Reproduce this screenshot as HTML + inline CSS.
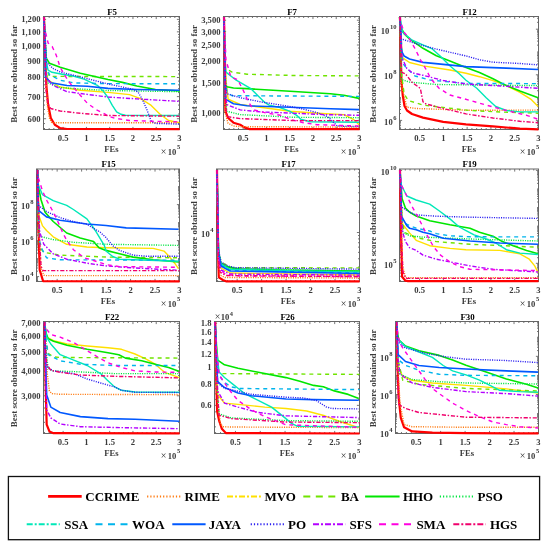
<!DOCTYPE html><html><head><meta charset="utf-8"><style>
html,body{margin:0;padding:0;background:#fff;width:550px;height:549px;overflow:hidden}
svg{display:block;filter:blur(0.35px)} text{font-family:'Liberation Serif', serif;font-weight:bold}
.tl{font-size:8.6px;fill:#3a3a3a} .sup{font-size:6.6px} .sup2{font-size:6.4px} .tx{font-weight:normal;font-size:10px} .tt{font-size:8.9px;fill:#000}
.yl{font-size:8.95px;fill:#3a3a3a} .lg{font-size:13px;fill:#000}
</style></head><body>
<svg width="550" height="549" viewBox="0 0 550 549">
<rect width="550" height="549" fill="#fff"/>
<rect x="43.5" y="16.5" width="136.00" height="113.00" fill="none" stroke="#666666" stroke-width="1"/>
<path d="M44.52 129.50v-1.5M44.52 16.50v1.5M49.18 129.50v-1.5M49.18 16.50v1.5M53.83 129.50v-1.5M53.83 16.50v1.5M58.49 129.50v-1.5M58.49 16.50v1.5M63.14 129.50v-2.6M63.14 16.50v2.6M67.80 129.50v-1.5M67.80 16.50v1.5M72.45 129.50v-1.5M72.45 16.50v1.5M77.10 129.50v-1.5M77.10 16.50v1.5M81.76 129.50v-1.5M81.76 16.50v1.5M86.41 129.50v-2.6M86.41 16.50v2.6M91.07 129.50v-1.5M91.07 16.50v1.5M95.72 129.50v-1.5M95.72 16.50v1.5M100.38 129.50v-1.5M100.38 16.50v1.5M105.03 129.50v-1.5M105.03 16.50v1.5M109.68 129.50v-2.6M109.68 16.50v2.6M114.34 129.50v-1.5M114.34 16.50v1.5M118.99 129.50v-1.5M118.99 16.50v1.5M123.65 129.50v-1.5M123.65 16.50v1.5M128.30 129.50v-1.5M128.30 16.50v1.5M132.96 129.50v-2.6M132.96 16.50v2.6M137.61 129.50v-1.5M137.61 16.50v1.5M142.27 129.50v-1.5M142.27 16.50v1.5M146.92 129.50v-1.5M146.92 16.50v1.5M151.57 129.50v-1.5M151.57 16.50v1.5M156.23 129.50v-2.6M156.23 16.50v2.6M160.88 129.50v-1.5M160.88 16.50v1.5M165.54 129.50v-1.5M165.54 16.50v1.5M170.19 129.50v-1.5M170.19 16.50v1.5M174.85 129.50v-1.5M174.85 16.50v1.5M43.50 128.60h1.5M179.50 128.60h-1.5M43.50 123.57h1.5M179.50 123.57h-1.5M43.50 114.01h1.5M179.50 114.01h-1.5M43.50 109.46h1.5M179.50 109.46h-1.5M43.50 105.05h1.5M179.50 105.05h-1.5M43.50 100.77h1.5M179.50 100.77h-1.5M43.50 92.58h1.5M179.50 92.58h-1.5M43.50 88.65h1.5M179.50 88.65h-1.5M43.50 84.83h1.5M179.50 84.83h-1.5M43.50 81.11h1.5M179.50 81.11h-1.5M43.50 73.94h1.5M179.50 73.94h-1.5M43.50 70.49h1.5M179.50 70.49h-1.5M43.50 67.12h1.5M179.50 67.12h-1.5M43.50 63.82h1.5M179.50 63.82h-1.5M43.50 57.45h1.5M179.50 57.45h-1.5M43.50 54.37h1.5M179.50 54.37h-1.5M43.50 51.35h1.5M179.50 51.35h-1.5M43.50 48.40h1.5M179.50 48.40h-1.5M43.50 42.66h1.5M179.50 42.66h-1.5M43.50 39.88h1.5M179.50 39.88h-1.5M43.50 37.15h1.5M179.50 37.15h-1.5M43.50 34.47h1.5M179.50 34.47h-1.5M43.50 29.26h1.5M179.50 29.26h-1.5M43.50 26.72h1.5M179.50 26.72h-1.5M43.50 24.23h1.5M179.50 24.23h-1.5M43.50 21.78h1.5M179.50 21.78h-1.5M43.50 17.00h1.5M179.50 17.00h-1.5M43.50 118.71h2.6M179.50 118.71h-2.6M43.50 96.62h2.6M179.50 96.62h-2.6M43.50 77.48h2.6M179.50 77.48h-2.6M43.50 60.60h2.6M179.50 60.60h-2.6M43.50 45.50h2.6M179.50 45.50h-2.6M43.50 31.84h2.6M179.50 31.84h-2.6M43.50 19.37h2.6M179.50 19.37h-2.6" stroke="#666666" stroke-width="0.9" fill="none"/>
<polyline points="44.00,17.00 45.40,60.00 46.50,87.00 48.10,104.50 50.80,118.00 54.80,124.70 60.20,128.10 67.00,129.00 179.60,129.10" fill="none" stroke="#ff0000" stroke-width="2.2" stroke-linejoin="round"/>
<polyline points="44.00,17.00 46.00,80.00 47.40,105.80 49.40,118.00 51.50,122.40 53.00,122.70 179.60,122.70" fill="none" stroke="#ff7a10" stroke-width="1.4" stroke-dasharray="1.1 1.25" stroke-linejoin="round"/>
<polyline points="44.00,17.00 45.50,70.00 48.00,80.00 60.00,87.00 80.40,90.30 108.00,92.40 129.60,94.60 141.10,98.90 151.20,105.40 159.80,114.00 168.50,120.50 179.50,122.70" fill="none" stroke="#ffe000" stroke-width="1.4" stroke-linejoin="round"/>
<polyline points="44.00,17.00 46.00,65.00 49.40,76.40 179.60,76.60" fill="none" stroke="#70e400" stroke-width="1.4" stroke-dasharray="4 3.9" stroke-linejoin="round"/>
<polyline points="44.00,17.00 46.10,57.80 49.40,63.20 60.20,67.30 80.40,73.30 108.00,79.50 122.40,82.40 136.80,86.00 155.50,89.50 179.50,91.00" fill="none" stroke="#00e600" stroke-width="1.6" stroke-linejoin="round"/>
<polyline points="44.00,17.00 46.00,70.00 48.10,83.00 60.20,87.60 80.40,89.00 108.00,90.50 179.60,91.70" fill="none" stroke="#00e640" stroke-width="1.4" stroke-dasharray="1.1 1.25" stroke-linejoin="round"/>
<polyline points="44.00,17.00 46.00,60.00 48.00,70.00 52.00,72.30 62.20,74.20 73.10,76.00 84.00,79.20 97.30,85.30 103.60,91.60 108.00,97.50 112.30,105.40 116.60,111.90 121.00,114.30 125.30,115.20 179.60,115.50" fill="none" stroke="#00e8b8" stroke-width="1.4" stroke-linejoin="round"/>
<polyline points="44.00,17.00 46.00,65.00 49.40,74.80 60.20,80.20 73.70,82.90 108.00,83.60 179.60,83.80" fill="none" stroke="#00b4ec" stroke-width="1.4" stroke-dasharray="4 3.9" stroke-linejoin="round"/>
<polyline points="44.00,17.00 45.40,76.70 50.80,82.80 67.00,85.50 87.20,86.30 108.00,88.40 136.80,89.50 179.50,90.30" fill="none" stroke="#0058ff" stroke-width="1.6" stroke-linejoin="round"/>
<polyline points="44.00,17.00 46.70,62.50 53.50,68.80 60.20,72.00 80.40,76.90 108.00,84.00 122.40,87.00 133.90,89.50 138.20,92.40 142.50,99.60 146.90,109.70 151.20,121.20 155.50,123.40 179.50,124.10" fill="none" stroke="#2a1ef0" stroke-width="1.4" stroke-dasharray="1.1 1.25" stroke-linejoin="round"/>
<polyline points="44.00,17.00 45.50,65.00 46.70,78.90 53.50,85.60 67.00,91.70 87.20,94.40 108.00,97.00 136.80,98.90 179.50,101.40" fill="none" stroke="#b400ff" stroke-width="1.4" stroke-dasharray="4.2 1.6 1.5 1.8" stroke-linejoin="round"/>
<polyline points="44.00,17.00 45.00,30.00 48.10,43.00 52.10,46.40 56.20,55.10 60.20,67.30 65.60,76.70 70.30,83.50 77.80,92.40 87.20,103.10 96.60,109.90 104.70,113.90 108.00,116.20 115.20,118.30 129.60,120.50 151.20,121.20 179.50,121.90" fill="none" stroke="#ff00e0" stroke-width="1.4" stroke-dasharray="4 3.9" stroke-linejoin="round"/>
<polyline points="44.00,17.00 46.00,90.00 48.00,104.00 50.80,108.50 60.20,111.00 80.40,113.30 108.00,115.50 179.50,116.20" fill="none" stroke="#f0006c" stroke-width="1.4" stroke-dasharray="4.2 1.6 1.5 1.8" stroke-linejoin="round"/>
<text x="63.14" y="141.10" class="tl" text-anchor="middle">0.5</text>
<text x="86.41" y="141.10" class="tl" text-anchor="middle">1</text>
<text x="109.68" y="141.10" class="tl" text-anchor="middle">1.5</text>
<text x="132.96" y="141.10" class="tl" text-anchor="middle">2</text>
<text x="156.23" y="141.10" class="tl" text-anchor="middle">2.5</text>
<text x="179.50" y="141.10" class="tl" text-anchor="middle">3</text>
<text x="111.50" y="151.50" class="tl" text-anchor="middle">FEs</text>
<text x="180.10" y="155.20" class="tl" text-anchor="end"><tspan class="tx">×</tspan><tspan dx="1.4">10</tspan><tspan class="sup2" dx="0.6" dy="-6.2">5</tspan></text>
<text x="40.50" y="121.71" class="tl" text-anchor="end">600</text>
<text x="40.50" y="99.62" class="tl" text-anchor="end">700</text>
<text x="40.50" y="80.48" class="tl" text-anchor="end">800</text>
<text x="40.50" y="63.60" class="tl" text-anchor="end">900</text>
<text x="40.50" y="48.50" class="tl" text-anchor="end">1,000</text>
<text x="40.50" y="34.84" class="tl" text-anchor="end">1,100</text>
<text x="40.50" y="22.37" class="tl" text-anchor="end">1,200</text>
<text x="112.10" y="14.90" class="tt" text-anchor="middle">F5</text>
<text x="17.10" y="73.90" class="yl" text-anchor="middle" transform="rotate(-90 17.10 73.90)">Best score obtained so far</text>
<rect x="223.5" y="16.5" width="136.00" height="113.00" fill="none" stroke="#666666" stroke-width="1"/>
<path d="M224.52 129.50v-1.5M224.52 16.50v1.5M229.18 129.50v-1.5M229.18 16.50v1.5M233.83 129.50v-1.5M233.83 16.50v1.5M238.49 129.50v-1.5M238.49 16.50v1.5M243.14 129.50v-2.6M243.14 16.50v2.6M247.80 129.50v-1.5M247.80 16.50v1.5M252.45 129.50v-1.5M252.45 16.50v1.5M257.10 129.50v-1.5M257.10 16.50v1.5M261.76 129.50v-1.5M261.76 16.50v1.5M266.41 129.50v-2.6M266.41 16.50v2.6M271.07 129.50v-1.5M271.07 16.50v1.5M275.72 129.50v-1.5M275.72 16.50v1.5M280.38 129.50v-1.5M280.38 16.50v1.5M285.03 129.50v-1.5M285.03 16.50v1.5M289.68 129.50v-2.6M289.68 16.50v2.6M294.34 129.50v-1.5M294.34 16.50v1.5M298.99 129.50v-1.5M298.99 16.50v1.5M303.65 129.50v-1.5M303.65 16.50v1.5M308.30 129.50v-1.5M308.30 16.50v1.5M312.96 129.50v-2.6M312.96 16.50v2.6M317.61 129.50v-1.5M317.61 16.50v1.5M322.27 129.50v-1.5M322.27 16.50v1.5M326.92 129.50v-1.5M326.92 16.50v1.5M331.57 129.50v-1.5M331.57 16.50v1.5M336.23 129.50v-2.6M336.23 16.50v2.6M340.88 129.50v-1.5M340.88 16.50v1.5M345.54 129.50v-1.5M345.54 16.50v1.5M350.19 129.50v-1.5M350.19 16.50v1.5M354.85 129.50v-1.5M354.85 16.50v1.5M223.50 128.94h1.5M359.50 128.94h-1.5M223.50 120.26h1.5M359.50 120.26h-1.5M223.50 105.48h1.5M359.50 105.48h-1.5M223.50 99.07h1.5M359.50 99.07h-1.5M223.50 93.18h1.5M359.50 93.18h-1.5M223.50 87.72h1.5M359.50 87.72h-1.5M223.50 77.88h1.5M359.50 77.88h-1.5M223.50 73.42h1.5M359.50 73.42h-1.5M223.50 69.21h1.5M359.50 69.21h-1.5M223.50 65.22h1.5M359.50 65.22h-1.5M223.50 57.85h1.5M359.50 57.85h-1.5M223.50 54.43h1.5M359.50 54.43h-1.5M223.50 51.15h1.5M359.50 51.15h-1.5M223.50 48.02h1.5M359.50 48.02h-1.5M223.50 42.12h1.5M359.50 42.12h-1.5M223.50 39.34h1.5M359.50 39.34h-1.5M223.50 36.66h1.5M359.50 36.66h-1.5M223.50 34.08h1.5M359.50 34.08h-1.5M223.50 29.17h1.5M359.50 29.17h-1.5M223.50 26.83h1.5M359.50 26.83h-1.5M223.50 24.56h1.5M359.50 24.56h-1.5M223.50 22.36h1.5M359.50 22.36h-1.5M223.50 18.15h1.5M359.50 18.15h-1.5M223.50 112.50h2.6M359.50 112.50h-2.6M223.50 82.63h2.6M359.50 82.63h-2.6M223.50 61.45h2.6M359.50 61.45h-2.6M223.50 45.01h2.6M359.50 45.01h-2.6M223.50 31.58h2.6M359.50 31.58h-2.6M223.50 20.23h2.6M359.50 20.23h-2.6" stroke="#666666" stroke-width="0.9" fill="none"/>
<polyline points="224.00,17.00 225.00,80.00 225.40,111.20 228.10,118.00 233.50,122.70 240.20,124.70 244.30,127.40 249.60,129.10 359.60,129.10" fill="none" stroke="#ff0000" stroke-width="2.2" stroke-linejoin="round"/>
<polyline points="224.00,17.00 225.00,90.00 225.40,113.90 228.10,123.30 233.50,126.00 240.00,126.70 359.60,127.00" fill="none" stroke="#ff7a10" stroke-width="1.4" stroke-dasharray="1.1 1.25" stroke-linejoin="round"/>
<polyline points="224.00,17.00 226.00,80.00 228.10,99.10 240.20,104.50 260.40,107.20 290.00,111.20 317.00,113.20 343.90,114.60 353.30,119.30 359.10,124.70" fill="none" stroke="#ffe000" stroke-width="1.4" stroke-linejoin="round"/>
<polyline points="224.00,17.00 225.40,68.10 232.10,72.10 247.00,74.20 294.00,75.50 359.60,75.90" fill="none" stroke="#70e400" stroke-width="1.4" stroke-dasharray="4 3.9" stroke-linejoin="round"/>
<polyline points="224.00,17.00 225.20,70.00 225.40,86.50 233.50,88.00 247.00,88.60 260.40,89.50 290.00,91.30 330.40,93.70 343.90,95.30 359.10,98.40" fill="none" stroke="#00e600" stroke-width="1.6" stroke-linejoin="round"/>
<polyline points="224.00,17.00 225.50,90.00 226.70,111.20 240.20,114.60 294.00,117.30 359.60,117.70" fill="none" stroke="#00e640" stroke-width="1.4" stroke-dasharray="1.1 1.25" stroke-linejoin="round"/>
<polyline points="224.00,17.00 225.00,60.00 226.00,72.10 236.20,80.20 250.90,88.70 258.20,96.00 264.00,101.80 269.10,105.10 280.00,107.50 290.00,111.30 296.70,115.30 300.80,119.30 310.20,121.70 359.10,122.30" fill="none" stroke="#00e8b8" stroke-width="1.4" stroke-linejoin="round"/>
<polyline points="224.00,17.00 225.00,80.00 227.00,92.00 232.00,95.70 359.60,96.40" fill="none" stroke="#00b4ec" stroke-width="1.4" stroke-dasharray="4 3.9" stroke-linejoin="round"/>
<polyline points="224.00,17.00 225.40,99.10 233.50,103.80 247.00,105.80 290.00,107.20 330.40,108.80 359.10,109.60" fill="none" stroke="#0058ff" stroke-width="1.6" stroke-linejoin="round"/>
<polyline points="224.00,17.00 225.50,80.00 226.70,93.70 240.20,97.70 260.40,101.80 294.00,107.20 303.50,109.20 317.00,112.60 327.70,116.60 333.10,122.00 337.20,126.00 359.10,126.70" fill="none" stroke="#2a1ef0" stroke-width="1.4" stroke-dasharray="1.1 1.25" stroke-linejoin="round"/>
<polyline points="224.00,17.00 225.50,90.00 226.70,104.50 240.20,109.90 260.40,111.90 294.00,113.20 323.70,114.60 359.10,115.30" fill="none" stroke="#b400ff" stroke-width="1.4" stroke-dasharray="4.2 1.6 1.5 1.8" stroke-linejoin="round"/>
<polyline points="224.00,17.00 226.00,60.00 230.80,76.80 237.50,79.50 242.90,89.60 248.30,101.80 253.70,109.90 267.20,113.20 280.60,115.30 290.00,119.30 303.50,122.70 317.00,124.70 359.10,126.00" fill="none" stroke="#ff00e0" stroke-width="1.4" stroke-dasharray="4 3.9" stroke-linejoin="round"/>
<polyline points="224.00,17.00 225.50,100.00 226.70,116.60 240.20,118.60 294.00,120.60 359.60,120.60" fill="none" stroke="#f0006c" stroke-width="1.4" stroke-dasharray="4.2 1.6 1.5 1.8" stroke-linejoin="round"/>
<text x="243.14" y="141.10" class="tl" text-anchor="middle">0.5</text>
<text x="266.41" y="141.10" class="tl" text-anchor="middle">1</text>
<text x="289.68" y="141.10" class="tl" text-anchor="middle">1.5</text>
<text x="312.96" y="141.10" class="tl" text-anchor="middle">2</text>
<text x="336.23" y="141.10" class="tl" text-anchor="middle">2.5</text>
<text x="359.50" y="141.10" class="tl" text-anchor="middle">3</text>
<text x="291.50" y="151.50" class="tl" text-anchor="middle">FEs</text>
<text x="360.10" y="155.20" class="tl" text-anchor="end"><tspan class="tx">×</tspan><tspan dx="1.4">10</tspan><tspan class="sup2" dx="0.6" dy="-6.2">5</tspan></text>
<text x="220.50" y="115.50" class="tl" text-anchor="end">1,000</text>
<text x="220.50" y="85.63" class="tl" text-anchor="end">1,500</text>
<text x="220.50" y="64.45" class="tl" text-anchor="end">2,000</text>
<text x="220.50" y="48.01" class="tl" text-anchor="end">2,500</text>
<text x="220.50" y="34.58" class="tl" text-anchor="end">3,000</text>
<text x="220.50" y="23.23" class="tl" text-anchor="end">3,500</text>
<text x="292.10" y="14.90" class="tt" text-anchor="middle">F7</text>
<text x="197.00" y="73.90" class="yl" text-anchor="middle" transform="rotate(-90 197.00 73.90)">Best score obtained so far</text>
<rect x="399.5" y="16.5" width="139.00" height="113.00" fill="none" stroke="#666666" stroke-width="1"/>
<path d="M400.55 129.50v-1.5M400.55 16.50v1.5M405.30 129.50v-1.5M405.30 16.50v1.5M410.06 129.50v-1.5M410.06 16.50v1.5M414.82 129.50v-1.5M414.82 16.50v1.5M419.57 129.50v-2.6M419.57 16.50v2.6M424.33 129.50v-1.5M424.33 16.50v1.5M429.09 129.50v-1.5M429.09 16.50v1.5M433.85 129.50v-1.5M433.85 16.50v1.5M438.60 129.50v-1.5M438.60 16.50v1.5M443.36 129.50v-2.6M443.36 16.50v2.6M448.12 129.50v-1.5M448.12 16.50v1.5M452.87 129.50v-1.5M452.87 16.50v1.5M457.63 129.50v-1.5M457.63 16.50v1.5M462.39 129.50v-1.5M462.39 16.50v1.5M467.14 129.50v-2.6M467.14 16.50v2.6M471.90 129.50v-1.5M471.90 16.50v1.5M476.66 129.50v-1.5M476.66 16.50v1.5M481.42 129.50v-1.5M481.42 16.50v1.5M486.17 129.50v-1.5M486.17 16.50v1.5M490.93 129.50v-2.6M490.93 16.50v2.6M495.69 129.50v-1.5M495.69 16.50v1.5M500.44 129.50v-1.5M500.44 16.50v1.5M505.20 129.50v-1.5M505.20 16.50v1.5M509.96 129.50v-1.5M509.96 16.50v1.5M514.71 129.50v-2.6M514.71 16.50v2.6M519.47 129.50v-1.5M519.47 16.50v1.5M524.23 129.50v-1.5M524.23 16.50v1.5M528.99 129.50v-1.5M528.99 16.50v1.5M533.74 129.50v-1.5M533.74 16.50v1.5M399.50 129.47h1.5M538.50 129.47h-1.5M399.50 127.26h1.5M538.50 127.26h-1.5M399.50 125.46h1.5M538.50 125.46h-1.5M399.50 123.93h1.5M538.50 123.93h-1.5M399.50 122.61h1.5M538.50 122.61h-1.5M399.50 121.44h1.5M538.50 121.44h-1.5M399.50 113.54h1.5M538.50 113.54h-1.5M399.50 109.52h1.5M538.50 109.52h-1.5M399.50 106.67h1.5M538.50 106.67h-1.5M399.50 104.46h1.5M538.50 104.46h-1.5M399.50 102.66h1.5M538.50 102.66h-1.5M399.50 101.13h1.5M538.50 101.13h-1.5M399.50 99.81h1.5M538.50 99.81h-1.5M399.50 98.64h1.5M538.50 98.64h-1.5M399.50 97.60h1.5M538.50 97.60h-1.5M399.50 90.74h1.5M538.50 90.74h-1.5M399.50 86.72h1.5M538.50 86.72h-1.5M399.50 83.87h1.5M538.50 83.87h-1.5M399.50 81.66h1.5M538.50 81.66h-1.5M399.50 79.86h1.5M538.50 79.86h-1.5M399.50 78.33h1.5M538.50 78.33h-1.5M399.50 77.01h1.5M538.50 77.01h-1.5M399.50 75.84h1.5M538.50 75.84h-1.5M399.50 67.94h1.5M538.50 67.94h-1.5M399.50 63.92h1.5M538.50 63.92h-1.5M399.50 61.07h1.5M538.50 61.07h-1.5M399.50 58.86h1.5M538.50 58.86h-1.5M399.50 57.06h1.5M538.50 57.06h-1.5M399.50 55.53h1.5M538.50 55.53h-1.5M399.50 54.21h1.5M538.50 54.21h-1.5M399.50 53.04h1.5M538.50 53.04h-1.5M399.50 52.00h1.5M538.50 52.00h-1.5M399.50 45.14h1.5M538.50 45.14h-1.5M399.50 41.12h1.5M538.50 41.12h-1.5M399.50 38.27h1.5M538.50 38.27h-1.5M399.50 36.06h1.5M538.50 36.06h-1.5M399.50 34.26h1.5M538.50 34.26h-1.5M399.50 32.73h1.5M538.50 32.73h-1.5M399.50 31.41h1.5M538.50 31.41h-1.5M399.50 30.24h1.5M538.50 30.24h-1.5M399.50 22.34h1.5M538.50 22.34h-1.5M399.50 18.32h1.5M538.50 18.32h-1.5M399.50 120.40h2.6M538.50 120.40h-2.6M399.50 74.80h2.6M538.50 74.80h-2.6M399.50 29.20h2.6M538.50 29.20h-2.6" stroke="#666666" stroke-width="0.9" fill="none"/>
<polyline points="400.00,17.00 401.40,80.20 402.70,95.00 404.50,106.00 407.00,110.50 412.00,114.00 423.00,117.60 443.20,121.80 466.00,124.30 493.00,126.30 519.90,128.70 538.50,129.40" fill="none" stroke="#ff0000" stroke-width="2.2" stroke-linejoin="round"/>
<polyline points="400.00,17.00 401.50,70.00 402.00,87.00 406.80,107.20 416.20,108.50 470.00,110.30 538.50,110.10" fill="none" stroke="#ff7a10" stroke-width="1.4" stroke-dasharray="1.1 1.25" stroke-linejoin="round"/>
<polyline points="400.00,17.00 401.50,45.00 402.70,57.80 409.50,62.50 423.00,65.90 449.90,70.00 466.00,73.30 479.50,76.70 493.00,80.70 506.40,85.60 519.90,92.30 530.70,99.10 538.10,106.50" fill="none" stroke="#ffe000" stroke-width="1.4" stroke-linejoin="round"/>
<polyline points="400.00,17.00 401.40,73.50 404.10,93.70 408.10,100.40 423.00,105.10 470.00,110.50 500.00,112.00 538.50,113.20" fill="none" stroke="#70e400" stroke-width="1.4" stroke-dasharray="4 3.9" stroke-linejoin="round"/>
<polyline points="399.50,17.00 400.00,22.80 401.40,28.10 404.10,33.60 409.50,38.80 423.00,48.30 436.40,55.70 449.90,61.00 466.00,67.50 479.50,72.50 493.00,78.80 506.40,85.60 519.90,91.00 538.10,97.70" fill="none" stroke="#00e600" stroke-width="1.6" stroke-linejoin="round"/>
<polyline points="400.00,17.00 401.40,79.40 409.50,82.10 436.40,84.50 470.00,84.90 538.50,85.60" fill="none" stroke="#00e640" stroke-width="1.4" stroke-dasharray="1.1 1.25" stroke-linejoin="round"/>
<polyline points="400.00,17.00 402.70,32.20 404.10,33.50 412.20,40.20 422.90,44.90 432.30,48.90 440.40,56.30 449.80,65.80 459.30,73.80 466.00,80.20 476.80,88.30 486.20,97.70 495.70,106.50 506.40,110.50 519.90,111.90 538.10,111.90" fill="none" stroke="#00e8b8" stroke-width="1.4" stroke-linejoin="round"/>
<polyline points="400.00,17.00 402.70,63.20 406.80,68.60 409.50,70.80 415.00,76.00 430.00,80.00 466.00,83.50 538.50,83.60" fill="none" stroke="#00b4ec" stroke-width="1.4" stroke-dasharray="4 3.9" stroke-linejoin="round"/>
<polyline points="400.00,17.00 401.40,51.00 404.10,56.00 409.50,59.00 423.00,62.40 443.20,64.40 466.00,66.60 506.40,68.10 538.10,69.50" fill="none" stroke="#0058ff" stroke-width="1.6" stroke-linejoin="round"/>
<polyline points="400.00,17.00 401.40,39.00 416.20,43.70 436.40,49.10 456.60,53.80 466.00,55.90 479.50,59.80 493.00,62.20 519.90,63.50 538.10,64.90" fill="none" stroke="#2a1ef0" stroke-width="1.4" stroke-dasharray="1.1 1.25" stroke-linejoin="round"/>
<polyline points="400.00,17.00 402.00,57.80 406.80,68.40 412.20,72.80 423.00,75.30 443.20,80.50 466.00,84.00 506.40,86.30 538.10,88.30" fill="none" stroke="#b400ff" stroke-width="1.4" stroke-dasharray="4.2 1.6 1.5 1.8" stroke-linejoin="round"/>
<polyline points="399.50,17.00 400.00,20.10 404.10,32.20 409.50,39.00 414.90,48.40 420.30,59.50 425.60,68.60 431.00,79.00 439.10,88.30 449.90,95.00 470.00,100.40 486.20,105.10 506.40,110.50 526.60,115.30 538.10,119.30" fill="none" stroke="#ff00e0" stroke-width="1.4" stroke-dasharray="4 3.9" stroke-linejoin="round"/>
<polyline points="400.00,17.00 401.40,72.10 405.40,73.80 412.20,82.50 420.30,88.30 423.00,101.80 425.60,103.80 443.20,108.50 466.00,113.90 493.00,118.00 519.90,121.30 538.10,122.70" fill="none" stroke="#f0006c" stroke-width="1.4" stroke-dasharray="4.2 1.6 1.5 1.8" stroke-linejoin="round"/>
<text x="419.57" y="141.10" class="tl" text-anchor="middle">0.5</text>
<text x="443.36" y="141.10" class="tl" text-anchor="middle">1</text>
<text x="467.14" y="141.10" class="tl" text-anchor="middle">1.5</text>
<text x="490.93" y="141.10" class="tl" text-anchor="middle">2</text>
<text x="514.71" y="141.10" class="tl" text-anchor="middle">2.5</text>
<text x="538.50" y="141.10" class="tl" text-anchor="middle">3</text>
<text x="469.00" y="151.50" class="tl" text-anchor="middle">FEs</text>
<text x="539.10" y="155.20" class="tl" text-anchor="end"><tspan class="tx">×</tspan><tspan dx="1.4">10</tspan><tspan class="sup2" dx="0.6" dy="-6.2">5</tspan></text>
<text x="396.50" y="124.70" class="tl" text-anchor="end">10<tspan class="sup" dx="0.5" dy="-5.0">6</tspan></text>
<text x="396.50" y="79.10" class="tl" text-anchor="end">10<tspan class="sup" dx="0.5" dy="-5.0">8</tspan></text>
<text x="396.50" y="33.50" class="tl" text-anchor="end">10<tspan class="sup" dx="0.5" dy="-5.0">10</tspan></text>
<text x="469.60" y="14.90" class="tt" text-anchor="middle">F12</text>
<text x="375.90" y="73.90" class="yl" text-anchor="middle" transform="rotate(-90 375.90 73.90)">Best score obtained so far</text>
<rect x="36.5" y="169.0" width="143.00" height="112.50" fill="none" stroke="#666666" stroke-width="1"/>
<path d="M37.58 281.50v-1.5M37.58 169.00v1.5M42.47 281.50v-1.5M42.47 169.00v1.5M47.36 281.50v-1.5M47.36 169.00v1.5M52.26 281.50v-1.5M52.26 169.00v1.5M57.15 281.50v-2.6M57.15 169.00v2.6M62.05 281.50v-1.5M62.05 169.00v1.5M66.94 281.50v-1.5M66.94 169.00v1.5M71.83 281.50v-1.5M71.83 169.00v1.5M76.73 281.50v-1.5M76.73 169.00v1.5M81.62 281.50v-2.6M81.62 169.00v2.6M86.52 281.50v-1.5M86.52 169.00v1.5M91.41 281.50v-1.5M91.41 169.00v1.5M96.30 281.50v-1.5M96.30 169.00v1.5M101.20 281.50v-1.5M101.20 169.00v1.5M106.09 281.50v-2.6M106.09 169.00v2.6M110.99 281.50v-1.5M110.99 169.00v1.5M115.88 281.50v-1.5M115.88 169.00v1.5M120.77 281.50v-1.5M120.77 169.00v1.5M125.67 281.50v-1.5M125.67 169.00v1.5M130.56 281.50v-2.6M130.56 169.00v2.6M135.45 281.50v-1.5M135.45 169.00v1.5M140.35 281.50v-1.5M140.35 169.00v1.5M145.24 281.50v-1.5M145.24 169.00v1.5M150.14 281.50v-1.5M150.14 169.00v1.5M155.03 281.50v-2.6M155.03 169.00v2.6M159.92 281.50v-1.5M159.92 169.00v1.5M164.82 281.50v-1.5M164.82 169.00v1.5M169.71 281.50v-1.5M169.71 169.00v1.5M174.61 281.50v-1.5M174.61 169.00v1.5M36.50 280.59h1.5M179.50 280.59h-1.5M36.50 279.39h1.5M179.50 279.39h-1.5M36.50 278.34h1.5M179.50 278.34h-1.5M36.50 277.42h1.5M179.50 277.42h-1.5M36.50 271.18h1.5M179.50 271.18h-1.5M36.50 268.01h1.5M179.50 268.01h-1.5M36.50 265.76h1.5M179.50 265.76h-1.5M36.50 264.02h1.5M179.50 264.02h-1.5M36.50 262.59h1.5M179.50 262.59h-1.5M36.50 261.39h1.5M179.50 261.39h-1.5M36.50 260.34h1.5M179.50 260.34h-1.5M36.50 259.42h1.5M179.50 259.42h-1.5M36.50 258.60h1.5M179.50 258.60h-1.5M36.50 253.18h1.5M179.50 253.18h-1.5M36.50 250.01h1.5M179.50 250.01h-1.5M36.50 247.76h1.5M179.50 247.76h-1.5M36.50 246.02h1.5M179.50 246.02h-1.5M36.50 244.59h1.5M179.50 244.59h-1.5M36.50 243.39h1.5M179.50 243.39h-1.5M36.50 242.34h1.5M179.50 242.34h-1.5M36.50 241.42h1.5M179.50 241.42h-1.5M36.50 235.18h1.5M179.50 235.18h-1.5M36.50 232.01h1.5M179.50 232.01h-1.5M36.50 229.76h1.5M179.50 229.76h-1.5M36.50 228.02h1.5M179.50 228.02h-1.5M36.50 226.59h1.5M179.50 226.59h-1.5M36.50 225.39h1.5M179.50 225.39h-1.5M36.50 224.34h1.5M179.50 224.34h-1.5M36.50 223.42h1.5M179.50 223.42h-1.5M36.50 222.60h1.5M179.50 222.60h-1.5M36.50 217.18h1.5M179.50 217.18h-1.5M36.50 214.01h1.5M179.50 214.01h-1.5M36.50 211.76h1.5M179.50 211.76h-1.5M36.50 210.02h1.5M179.50 210.02h-1.5M36.50 208.59h1.5M179.50 208.59h-1.5M36.50 207.39h1.5M179.50 207.39h-1.5M36.50 206.34h1.5M179.50 206.34h-1.5M36.50 205.42h1.5M179.50 205.42h-1.5M36.50 199.18h1.5M179.50 199.18h-1.5M36.50 196.01h1.5M179.50 196.01h-1.5M36.50 193.76h1.5M179.50 193.76h-1.5M36.50 192.02h1.5M179.50 192.02h-1.5M36.50 190.59h1.5M179.50 190.59h-1.5M36.50 189.39h1.5M179.50 189.39h-1.5M36.50 188.34h1.5M179.50 188.34h-1.5M36.50 187.42h1.5M179.50 187.42h-1.5M36.50 186.60h1.5M179.50 186.60h-1.5M36.50 181.18h1.5M179.50 181.18h-1.5M36.50 178.01h1.5M179.50 178.01h-1.5M36.50 175.76h1.5M179.50 175.76h-1.5M36.50 174.02h1.5M179.50 174.02h-1.5M36.50 172.59h1.5M179.50 172.59h-1.5M36.50 171.39h1.5M179.50 171.39h-1.5M36.50 170.34h1.5M179.50 170.34h-1.5M36.50 169.42h1.5M179.50 169.42h-1.5M36.50 276.60h2.6M179.50 276.60h-2.6M36.50 240.60h2.6M179.50 240.60h-2.6M36.50 204.60h2.6M179.50 204.60h-2.6" stroke="#666666" stroke-width="0.9" fill="none"/>
<polyline points="37.50,170.00 38.50,230.00 39.70,270.00 43.10,281.10 179.60,281.30" fill="none" stroke="#ff0000" stroke-width="2.2" stroke-linejoin="round"/>
<polyline points="37.50,170.00 39.00,230.00 41.10,268.60 43.80,275.30 46.00,275.60 179.60,275.60" fill="none" stroke="#ff7a10" stroke-width="1.4" stroke-dasharray="1.1 1.25" stroke-linejoin="round"/>
<polyline points="37.50,170.00 38.50,200.00 39.10,216.20 42.40,225.60 46.50,230.50 53.20,236.80 66.70,244.30 86.90,247.00 106.00,247.70 153.20,248.40 164.00,251.10 169.30,256.50 174.70,263.20 178.40,268.60" fill="none" stroke="#ffe000" stroke-width="1.4" stroke-linejoin="round"/>
<polyline points="37.50,170.00 38.50,230.00 39.70,247.00 43.80,252.40 60.00,255.10 107.00,257.10 179.60,257.80" fill="none" stroke="#70e400" stroke-width="1.4" stroke-dasharray="4 3.9" stroke-linejoin="round"/>
<polyline points="37.50,170.00 38.40,186.60 41.10,200.00 45.10,212.20 53.20,221.50 66.70,233.00 80.20,238.00 93.60,241.60 99.00,247.70 106.00,250.40 119.50,253.80 133.00,257.10 153.20,259.80 178.40,261.90" fill="none" stroke="#00e600" stroke-width="1.6" stroke-linejoin="round"/>
<polyline points="37.50,170.00 38.50,220.00 39.70,236.30 53.20,239.60 73.40,242.30 107.00,244.30 179.60,245.40" fill="none" stroke="#00e640" stroke-width="1.4" stroke-dasharray="1.1 1.25" stroke-linejoin="round"/>
<polyline points="37.50,170.00 38.40,185.20 42.40,194.60 53.20,200.70 66.70,205.40 73.40,209.50 86.90,218.90 93.60,228.00 96.30,232.20 104.40,245.70 106.00,251.00 112.70,256.50 119.50,259.20 178.40,261.20" fill="none" stroke="#00e8b8" stroke-width="1.4" stroke-linejoin="round"/>
<polyline points="37.50,170.00 38.50,220.00 39.70,241.60 42.40,249.70 46.50,257.80 60.00,259.80 179.60,260.20" fill="none" stroke="#00b4ec" stroke-width="1.4" stroke-dasharray="4 3.9" stroke-linejoin="round"/>
<polyline points="37.50,170.00 38.00,200.00 39.10,210.80 46.50,216.90 60.00,220.30 86.90,224.00 106.00,225.50 126.20,227.90 178.40,229.30" fill="none" stroke="#0058ff" stroke-width="1.6" stroke-linejoin="round"/>
<polyline points="37.50,170.00 38.40,205.40 46.50,211.50 60.00,217.60 73.40,221.60 86.90,224.30 100.40,232.40 106.00,237.60 112.70,245.70 119.50,250.40 133.00,255.10 146.40,256.20 179.60,256.20" fill="none" stroke="#2a1ef0" stroke-width="1.4" stroke-dasharray="1.1 1.25" stroke-linejoin="round"/>
<polyline points="37.50,170.00 38.50,210.00 39.70,232.20 43.80,244.30 53.20,253.80 66.70,259.20 86.90,263.20 106.00,265.90 133.00,267.90 178.40,270.20" fill="none" stroke="#b400ff" stroke-width="1.4" stroke-dasharray="4.2 1.6 1.5 1.8" stroke-linejoin="round"/>
<polyline points="37.50,170.00 37.70,175.80 42.40,190.60 46.50,200.00 51.90,209.50 57.30,220.30 62.60,232.40 66.70,240.30 73.40,249.70 84.20,257.80 93.60,260.50 106.00,264.60 119.50,266.60 178.40,267.30" fill="none" stroke="#ff00e0" stroke-width="1.4" stroke-dasharray="4 3.9" stroke-linejoin="round"/>
<polyline points="37.50,170.00 39.00,230.00 41.00,266.00 43.00,270.60 179.60,270.60" fill="none" stroke="#f0006c" stroke-width="1.4" stroke-dasharray="4.2 1.6 1.5 1.8" stroke-linejoin="round"/>
<text x="57.15" y="293.10" class="tl" text-anchor="middle">0.5</text>
<text x="81.62" y="293.10" class="tl" text-anchor="middle">1</text>
<text x="106.09" y="293.10" class="tl" text-anchor="middle">1.5</text>
<text x="130.56" y="293.10" class="tl" text-anchor="middle">2</text>
<text x="155.03" y="293.10" class="tl" text-anchor="middle">2.5</text>
<text x="179.50" y="293.10" class="tl" text-anchor="middle">3</text>
<text x="108.00" y="303.50" class="tl" text-anchor="middle">FEs</text>
<text x="180.10" y="307.20" class="tl" text-anchor="end"><tspan class="tx">×</tspan><tspan dx="1.4">10</tspan><tspan class="sup2" dx="0.6" dy="-6.2">5</tspan></text>
<text x="33.50" y="280.90" class="tl" text-anchor="end">10<tspan class="sup" dx="0.5" dy="-5.0">4</tspan></text>
<text x="33.50" y="244.90" class="tl" text-anchor="end">10<tspan class="sup" dx="0.5" dy="-5.0">6</tspan></text>
<text x="33.50" y="208.90" class="tl" text-anchor="end">10<tspan class="sup" dx="0.5" dy="-5.0">8</tspan></text>
<text x="108.60" y="166.80" class="tt" text-anchor="middle">F15</text>
<text x="17.10" y="226.15" class="yl" text-anchor="middle" transform="rotate(-90 17.10 226.15)">Best score obtained so far</text>
<rect x="216.5" y="169.0" width="143.00" height="112.50" fill="none" stroke="#666666" stroke-width="1"/>
<path d="M217.58 281.50v-1.5M217.58 169.00v1.5M222.47 281.50v-1.5M222.47 169.00v1.5M227.36 281.50v-1.5M227.36 169.00v1.5M232.26 281.50v-1.5M232.26 169.00v1.5M237.15 281.50v-2.6M237.15 169.00v2.6M242.05 281.50v-1.5M242.05 169.00v1.5M246.94 281.50v-1.5M246.94 169.00v1.5M251.83 281.50v-1.5M251.83 169.00v1.5M256.73 281.50v-1.5M256.73 169.00v1.5M261.62 281.50v-2.6M261.62 169.00v2.6M266.52 281.50v-1.5M266.52 169.00v1.5M271.41 281.50v-1.5M271.41 169.00v1.5M276.30 281.50v-1.5M276.30 169.00v1.5M281.20 281.50v-1.5M281.20 169.00v1.5M286.09 281.50v-2.6M286.09 169.00v2.6M290.99 281.50v-1.5M290.99 169.00v1.5M295.88 281.50v-1.5M295.88 169.00v1.5M300.77 281.50v-1.5M300.77 169.00v1.5M305.67 281.50v-1.5M305.67 169.00v1.5M310.56 281.50v-2.6M310.56 169.00v2.6M315.45 281.50v-1.5M315.45 169.00v1.5M320.35 281.50v-1.5M320.35 169.00v1.5M325.24 281.50v-1.5M325.24 169.00v1.5M330.14 281.50v-1.5M330.14 169.00v1.5M335.03 281.50v-2.6M335.03 169.00v2.6M339.92 281.50v-1.5M339.92 169.00v1.5M344.82 281.50v-1.5M344.82 169.00v1.5M349.71 281.50v-1.5M349.71 169.00v1.5M354.61 281.50v-1.5M354.61 169.00v1.5M216.50 278.63h1.5M359.50 278.63h-1.5M216.50 267.01h1.5M359.50 267.01h-1.5M216.50 258.76h1.5M359.50 258.76h-1.5M216.50 252.37h1.5M359.50 252.37h-1.5M216.50 247.14h1.5M359.50 247.14h-1.5M216.50 242.72h1.5M359.50 242.72h-1.5M216.50 238.90h1.5M359.50 238.90h-1.5M216.50 235.52h1.5M359.50 235.52h-1.5M216.50 212.63h1.5M359.50 212.63h-1.5M216.50 201.01h1.5M359.50 201.01h-1.5M216.50 192.76h1.5M359.50 192.76h-1.5M216.50 186.37h1.5M359.50 186.37h-1.5M216.50 181.14h1.5M359.50 181.14h-1.5M216.50 176.72h1.5M359.50 176.72h-1.5M216.50 172.90h1.5M359.50 172.90h-1.5M216.50 169.52h1.5M359.50 169.52h-1.5M216.50 232.50h2.6M359.50 232.50h-2.6" stroke="#666666" stroke-width="0.9" fill="none"/>
<polyline points="217.00,170.00 218.00,250.00 218.80,277.30 222.90,280.00 226.00,281.30 359.60,281.40" fill="none" stroke="#ff0000" stroke-width="2.2" stroke-linejoin="round"/>
<polyline points="217.00,170.00 218.30,260.00 220.00,275.00 225.00,277.50 359.60,278.00" fill="none" stroke="#ff7a10" stroke-width="1.4" stroke-dasharray="1.1 1.25" stroke-linejoin="round"/>
<polyline points="217.00,170.00 218.50,256.00 221.00,268.00 230.00,273.00 359.60,275.00" fill="none" stroke="#ffe000" stroke-width="1.4" stroke-linejoin="round"/>
<polyline points="217.00,170.00 218.50,250.00 221.00,262.00 231.00,267.70 359.60,267.90" fill="none" stroke="#70e400" stroke-width="1.4" stroke-dasharray="4 3.9" stroke-linejoin="round"/>
<polyline points="217.00,170.00 218.50,250.00 220.20,262.30 225.60,266.40 239.30,269.10 287.00,270.20 359.60,271.00" fill="none" stroke="#00e600" stroke-width="1.6" stroke-linejoin="round"/>
<polyline points="217.00,170.00 218.50,252.00 221.00,263.00 230.00,268.50 359.60,271.00" fill="none" stroke="#00e640" stroke-width="1.4" stroke-dasharray="1.1 1.25" stroke-linejoin="round"/>
<polyline points="217.00,170.00 218.50,252.00 221.00,264.00 230.00,269.50 359.60,272.10" fill="none" stroke="#00e8b8" stroke-width="1.4" stroke-linejoin="round"/>
<polyline points="217.00,170.00 218.50,254.00 221.00,265.00 230.00,270.50 359.60,273.00" fill="none" stroke="#00b4ec" stroke-width="1.4" stroke-dasharray="4 3.9" stroke-linejoin="round"/>
<polyline points="217.00,170.00 218.50,254.00 221.00,266.00 230.00,271.00 359.60,273.50" fill="none" stroke="#0058ff" stroke-width="1.6" stroke-linejoin="round"/>
<polyline points="217.00,170.00 218.50,250.00 221.00,262.00 228.00,266.00 235.00,267.70 359.60,269.20" fill="none" stroke="#2a1ef0" stroke-width="1.4" stroke-dasharray="1.1 1.25" stroke-linejoin="round"/>
<polyline points="217.00,170.00 218.50,258.00 221.00,270.00 230.00,274.00 359.60,275.20" fill="none" stroke="#b400ff" stroke-width="1.4" stroke-dasharray="4.2 1.6 1.5 1.8" stroke-linejoin="round"/>
<polyline points="217.00,170.00 218.50,258.00 220.00,270.00 226.00,274.50 240.00,276.00 359.60,276.60" fill="none" stroke="#ff00e0" stroke-width="1.4" stroke-dasharray="4 3.9" stroke-linejoin="round"/>
<polyline points="217.00,170.00 218.30,258.00 220.00,272.00 226.00,275.50 359.60,276.60" fill="none" stroke="#f0006c" stroke-width="1.4" stroke-dasharray="4.2 1.6 1.5 1.8" stroke-linejoin="round"/>
<text x="237.15" y="293.10" class="tl" text-anchor="middle">0.5</text>
<text x="261.62" y="293.10" class="tl" text-anchor="middle">1</text>
<text x="286.09" y="293.10" class="tl" text-anchor="middle">1.5</text>
<text x="310.56" y="293.10" class="tl" text-anchor="middle">2</text>
<text x="335.03" y="293.10" class="tl" text-anchor="middle">2.5</text>
<text x="359.50" y="293.10" class="tl" text-anchor="middle">3</text>
<text x="288.00" y="303.50" class="tl" text-anchor="middle">FEs</text>
<text x="360.10" y="307.20" class="tl" text-anchor="end"><tspan class="tx">×</tspan><tspan dx="1.4">10</tspan><tspan class="sup2" dx="0.6" dy="-6.2">5</tspan></text>
<text x="213.50" y="236.80" class="tl" text-anchor="end">10<tspan class="sup" dx="0.5" dy="-5.0">4</tspan></text>
<text x="288.60" y="166.80" class="tt" text-anchor="middle">F17</text>
<text x="197.00" y="226.15" class="yl" text-anchor="middle" transform="rotate(-90 197.00 226.15)">Best score obtained so far</text>
<rect x="399.5" y="169.0" width="139.00" height="112.50" fill="none" stroke="#666666" stroke-width="1"/>
<path d="M400.55 281.50v-1.5M400.55 169.00v1.5M405.30 281.50v-1.5M405.30 169.00v1.5M410.06 281.50v-1.5M410.06 169.00v1.5M414.82 281.50v-1.5M414.82 169.00v1.5M419.57 281.50v-2.6M419.57 169.00v2.6M424.33 281.50v-1.5M424.33 169.00v1.5M429.09 281.50v-1.5M429.09 169.00v1.5M433.85 281.50v-1.5M433.85 169.00v1.5M438.60 281.50v-1.5M438.60 169.00v1.5M443.36 281.50v-2.6M443.36 169.00v2.6M448.12 281.50v-1.5M448.12 169.00v1.5M452.87 281.50v-1.5M452.87 169.00v1.5M457.63 281.50v-1.5M457.63 169.00v1.5M462.39 281.50v-1.5M462.39 169.00v1.5M467.14 281.50v-2.6M467.14 169.00v2.6M471.90 281.50v-1.5M471.90 169.00v1.5M476.66 281.50v-1.5M476.66 169.00v1.5M481.42 281.50v-1.5M481.42 169.00v1.5M486.17 281.50v-1.5M486.17 169.00v1.5M490.93 281.50v-2.6M490.93 169.00v2.6M495.69 281.50v-1.5M495.69 169.00v1.5M500.44 281.50v-1.5M500.44 169.00v1.5M505.20 281.50v-1.5M505.20 169.00v1.5M509.96 281.50v-1.5M509.96 169.00v1.5M514.71 281.50v-2.6M514.71 169.00v2.6M519.47 281.50v-1.5M519.47 169.00v1.5M524.23 281.50v-1.5M524.23 169.00v1.5M528.99 281.50v-1.5M528.99 169.00v1.5M533.74 281.50v-1.5M533.74 169.00v1.5M399.50 276.29h1.5M538.50 276.29h-1.5M399.50 273.02h1.5M538.50 273.02h-1.5M399.50 270.69h1.5M538.50 270.69h-1.5M399.50 268.89h1.5M538.50 268.89h-1.5M399.50 267.42h1.5M538.50 267.42h-1.5M399.50 266.18h1.5M538.50 266.18h-1.5M399.50 265.10h1.5M538.50 265.10h-1.5M399.50 264.15h1.5M538.50 264.15h-1.5M399.50 257.71h1.5M538.50 257.71h-1.5M399.50 254.44h1.5M538.50 254.44h-1.5M399.50 252.11h1.5M538.50 252.11h-1.5M399.50 250.31h1.5M538.50 250.31h-1.5M399.50 248.84h1.5M538.50 248.84h-1.5M399.50 247.60h1.5M538.50 247.60h-1.5M399.50 246.52h1.5M538.50 246.52h-1.5M399.50 245.57h1.5M538.50 245.57h-1.5M399.50 244.72h1.5M538.50 244.72h-1.5M399.50 239.13h1.5M538.50 239.13h-1.5M399.50 235.86h1.5M538.50 235.86h-1.5M399.50 233.53h1.5M538.50 233.53h-1.5M399.50 231.73h1.5M538.50 231.73h-1.5M399.50 230.26h1.5M538.50 230.26h-1.5M399.50 229.02h1.5M538.50 229.02h-1.5M399.50 227.94h1.5M538.50 227.94h-1.5M399.50 226.99h1.5M538.50 226.99h-1.5M399.50 226.14h1.5M538.50 226.14h-1.5M399.50 220.55h1.5M538.50 220.55h-1.5M399.50 217.28h1.5M538.50 217.28h-1.5M399.50 214.95h1.5M538.50 214.95h-1.5M399.50 213.15h1.5M538.50 213.15h-1.5M399.50 211.68h1.5M538.50 211.68h-1.5M399.50 210.44h1.5M538.50 210.44h-1.5M399.50 209.36h1.5M538.50 209.36h-1.5M399.50 208.41h1.5M538.50 208.41h-1.5M399.50 207.56h1.5M538.50 207.56h-1.5M399.50 201.97h1.5M538.50 201.97h-1.5M399.50 198.70h1.5M538.50 198.70h-1.5M399.50 196.37h1.5M538.50 196.37h-1.5M399.50 194.57h1.5M538.50 194.57h-1.5M399.50 193.10h1.5M538.50 193.10h-1.5M399.50 191.86h1.5M538.50 191.86h-1.5M399.50 190.78h1.5M538.50 190.78h-1.5M399.50 189.83h1.5M538.50 189.83h-1.5M399.50 188.98h1.5M538.50 188.98h-1.5M399.50 183.39h1.5M538.50 183.39h-1.5M399.50 180.12h1.5M538.50 180.12h-1.5M399.50 177.79h1.5M538.50 177.79h-1.5M399.50 175.99h1.5M538.50 175.99h-1.5M399.50 174.52h1.5M538.50 174.52h-1.5M399.50 173.28h1.5M538.50 173.28h-1.5M399.50 172.20h1.5M538.50 172.20h-1.5M399.50 171.25h1.5M538.50 171.25h-1.5M399.50 263.30h2.6M538.50 263.30h-2.6M399.50 170.40h2.6M538.50 170.40h-2.6" stroke="#666666" stroke-width="0.9" fill="none"/>
<polyline points="400.00,170.00 401.00,230.00 402.10,276.70 405.40,280.70 408.00,281.20 538.50,281.20" fill="none" stroke="#ff0000" stroke-width="2.2" stroke-linejoin="round"/>
<polyline points="400.00,170.00 401.50,230.00 402.70,265.90 405.40,277.40 408.00,277.80 538.50,277.80" fill="none" stroke="#ff7a10" stroke-width="1.4" stroke-dasharray="1.1 1.25" stroke-linejoin="round"/>
<polyline points="400.00,170.00 401.00,200.00 402.70,224.30 409.50,232.90 416.20,240.30 429.70,245.70 449.90,248.40 466.00,249.70 499.70,250.40 519.90,253.80 529.30,259.20 534.70,265.90 538.10,272.60" fill="none" stroke="#ffe000" stroke-width="1.4" stroke-linejoin="round"/>
<polyline points="400.00,170.00 401.50,210.00 404.10,232.20 416.20,237.60 436.40,241.60 470.00,244.30 500.00,245.50 538.50,247.30" fill="none" stroke="#70e400" stroke-width="1.4" stroke-dasharray="4 3.9" stroke-linejoin="round"/>
<polyline points="400.00,170.00 400.70,181.20 402.10,198.70 405.40,208.10 409.50,212.00 416.20,216.10 429.70,220.80 449.90,224.80 470.00,228.20 479.50,232.20 493.00,236.30 502.40,241.60 513.20,245.70 526.60,250.40 538.10,253.80" fill="none" stroke="#00e600" stroke-width="1.6" stroke-linejoin="round"/>
<polyline points="400.00,170.00 401.50,210.00 402.70,232.40 409.50,235.80 423.00,237.10 470.00,239.00 538.10,241.00" fill="none" stroke="#00e640" stroke-width="1.4" stroke-dasharray="1.1 1.25" stroke-linejoin="round"/>
<polyline points="400.00,170.00 401.40,185.20 406.80,196.00 416.20,200.00 429.70,204.10 439.10,210.80 449.90,218.90 459.30,227.00 466.00,230.60 474.10,234.90 486.20,239.00 495.60,243.00 506.40,249.70 519.90,253.10 538.10,254.50" fill="none" stroke="#00e8b8" stroke-width="1.4" stroke-linejoin="round"/>
<polyline points="400.00,170.00 401.00,200.00 401.40,218.90 404.10,222.80 409.50,225.60 416.20,228.20 429.70,231.00 436.40,233.60 449.90,235.80 470.00,236.80 538.50,236.90" fill="none" stroke="#00b4ec" stroke-width="1.4" stroke-dasharray="4 3.9" stroke-linejoin="round"/>
<polyline points="400.00,170.00 401.00,200.00 401.40,216.20 406.80,225.60 409.50,228.20 416.20,229.70 423.00,232.20 429.70,233.70 443.20,238.30 470.00,241.00 499.70,243.00 538.10,244.30" fill="none" stroke="#0058ff" stroke-width="1.6" stroke-linejoin="round"/>
<polyline points="400.00,170.00 401.00,195.00 401.40,206.80 409.50,212.20 416.20,214.90 436.40,216.20 470.00,217.20 538.10,218.40" fill="none" stroke="#2a1ef0" stroke-width="1.4" stroke-dasharray="1.1 1.25" stroke-linejoin="round"/>
<polyline points="400.00,170.00 401.50,215.00 402.70,232.20 405.40,241.60 409.50,247.70 416.20,250.40 423.00,255.10 436.40,259.20 449.90,261.90 470.00,265.90 493.00,269.30 538.10,272.00" fill="none" stroke="#b400ff" stroke-width="1.4" stroke-dasharray="4.2 1.6 1.5 1.8" stroke-linejoin="round"/>
<polyline points="400.00,170.00 401.40,185.20 406.80,196.00 412.20,206.80 417.60,216.20 423.00,227.00 427.00,235.10 433.70,247.00 440.50,255.10 449.90,261.90 459.30,266.60 470.00,269.30 538.10,270.60" fill="none" stroke="#ff00e0" stroke-width="1.4" stroke-dasharray="4 3.9" stroke-linejoin="round"/>
<polyline points="400.00,170.00 401.30,240.00 403.00,272.00 406.00,278.40 538.50,278.40" fill="none" stroke="#f0006c" stroke-width="1.4" stroke-dasharray="4.2 1.6 1.5 1.8" stroke-linejoin="round"/>
<text x="419.57" y="293.10" class="tl" text-anchor="middle">0.5</text>
<text x="443.36" y="293.10" class="tl" text-anchor="middle">1</text>
<text x="467.14" y="293.10" class="tl" text-anchor="middle">1.5</text>
<text x="490.93" y="293.10" class="tl" text-anchor="middle">2</text>
<text x="514.71" y="293.10" class="tl" text-anchor="middle">2.5</text>
<text x="538.50" y="293.10" class="tl" text-anchor="middle">3</text>
<text x="469.00" y="303.50" class="tl" text-anchor="middle">FEs</text>
<text x="539.10" y="307.20" class="tl" text-anchor="end"><tspan class="tx">×</tspan><tspan dx="1.4">10</tspan><tspan class="sup2" dx="0.6" dy="-6.2">5</tspan></text>
<text x="396.50" y="267.60" class="tl" text-anchor="end">10<tspan class="sup" dx="0.5" dy="-5.0">5</tspan></text>
<text x="396.50" y="174.70" class="tl" text-anchor="end">10<tspan class="sup" dx="0.5" dy="-5.0">10</tspan></text>
<text x="469.60" y="166.80" class="tt" text-anchor="middle">F19</text>
<text x="375.90" y="226.15" class="yl" text-anchor="middle" transform="rotate(-90 375.90 226.15)">Best score obtained so far</text>
<rect x="43.5" y="321.5" width="136.00" height="112.00" fill="none" stroke="#666666" stroke-width="1"/>
<path d="M44.52 433.50v-1.5M44.52 321.50v1.5M49.18 433.50v-1.5M49.18 321.50v1.5M53.83 433.50v-1.5M53.83 321.50v1.5M58.49 433.50v-1.5M58.49 321.50v1.5M63.14 433.50v-2.6M63.14 321.50v2.6M67.80 433.50v-1.5M67.80 321.50v1.5M72.45 433.50v-1.5M72.45 321.50v1.5M77.10 433.50v-1.5M77.10 321.50v1.5M81.76 433.50v-1.5M81.76 321.50v1.5M86.41 433.50v-2.6M86.41 321.50v2.6M91.07 433.50v-1.5M91.07 321.50v1.5M95.72 433.50v-1.5M95.72 321.50v1.5M100.38 433.50v-1.5M100.38 321.50v1.5M105.03 433.50v-1.5M105.03 321.50v1.5M109.68 433.50v-2.6M109.68 321.50v2.6M114.34 433.50v-1.5M114.34 321.50v1.5M118.99 433.50v-1.5M118.99 321.50v1.5M123.65 433.50v-1.5M123.65 321.50v1.5M128.30 433.50v-1.5M128.30 321.50v1.5M132.96 433.50v-2.6M132.96 321.50v2.6M137.61 433.50v-1.5M137.61 321.50v1.5M142.27 433.50v-1.5M142.27 321.50v1.5M146.92 433.50v-1.5M146.92 321.50v1.5M151.57 433.50v-1.5M151.57 321.50v1.5M156.23 433.50v-2.6M156.23 321.50v2.6M160.88 433.50v-1.5M160.88 321.50v1.5M165.54 433.50v-1.5M165.54 321.50v1.5M170.19 433.50v-1.5M170.19 321.50v1.5M174.85 433.50v-1.5M174.85 321.50v1.5M43.50 422.33h1.5M179.50 422.33h-1.5M43.50 414.88h1.5M179.50 414.88h-1.5M43.50 408.03h1.5M179.50 408.03h-1.5M43.50 401.69h1.5M179.50 401.69h-1.5M43.50 390.27h1.5M179.50 390.27h-1.5M43.50 385.08h1.5M179.50 385.08h-1.5M43.50 380.19h1.5M179.50 380.19h-1.5M43.50 375.57h1.5M179.50 375.57h-1.5M43.50 367.00h1.5M179.50 367.00h-1.5M43.50 363.02h1.5M179.50 363.02h-1.5M43.50 359.22h1.5M179.50 359.22h-1.5M43.50 355.58h1.5M179.50 355.58h-1.5M43.50 348.73h1.5M179.50 348.73h-1.5M43.50 345.50h1.5M179.50 345.50h-1.5M43.50 342.39h1.5M179.50 342.39h-1.5M43.50 339.39h1.5M179.50 339.39h-1.5M43.50 333.68h1.5M179.50 333.68h-1.5M43.50 330.97h1.5M179.50 330.97h-1.5M43.50 328.33h1.5M179.50 328.33h-1.5M43.50 325.78h1.5M179.50 325.78h-1.5M43.50 395.79h2.6M179.50 395.79h-2.6M43.50 371.18h2.6M179.50 371.18h-2.6M43.50 352.09h2.6M179.50 352.09h-2.6M43.50 336.49h2.6M179.50 336.49h-2.6M43.50 323.30h2.6M179.50 323.30h-2.6" stroke="#666666" stroke-width="0.9" fill="none"/>
<polyline points="44.50,322.00 45.50,380.00 46.70,424.60 49.40,431.40 53.50,433.20 179.60,433.30" fill="none" stroke="#ff0000" stroke-width="2.2" stroke-linejoin="round"/>
<polyline points="44.50,322.00 46.00,350.00 47.40,374.80 49.40,391.00 52.10,393.60 60.00,394.30 179.60,394.70" fill="none" stroke="#ff7a10" stroke-width="1.4" stroke-dasharray="1.1 1.25" stroke-linejoin="round"/>
<polyline points="44.50,322.00 45.50,330.00 46.70,337.20 53.50,340.60 67.00,344.00 87.20,346.00 108.00,347.70 121.50,349.30 135.00,354.00 145.70,358.80 155.20,364.20 164.60,372.30 179.40,377.60" fill="none" stroke="#ffe000" stroke-width="1.4" stroke-linejoin="round"/>
<polyline points="44.50,322.00 46.00,340.00 48.10,353.40 53.50,356.80 60.00,357.50 179.60,358.10" fill="none" stroke="#70e400" stroke-width="1.4" stroke-dasharray="4 3.9" stroke-linejoin="round"/>
<polyline points="44.50,322.00 46.10,333.20 48.10,338.60 53.50,341.30 67.00,345.30 87.20,349.30 108.00,352.70 118.80,354.70 125.50,358.10 141.70,360.80 155.20,364.20 168.60,367.50 179.40,371.60" fill="none" stroke="#00e600" stroke-width="1.6" stroke-linejoin="round"/>
<polyline points="44.50,322.00 46.00,350.00 48.10,368.20 53.50,370.90 73.70,371.60 114.00,373.60 179.60,373.60" fill="none" stroke="#00e640" stroke-width="1.4" stroke-dasharray="1.1 1.25" stroke-linejoin="round"/>
<polyline points="44.50,322.00 46.70,337.20 50.80,344.00 60.20,354.70 73.70,360.10 87.20,365.50 100.60,373.60 107.40,380.30 114.70,386.90 121.50,390.30 135.00,392.00 179.40,392.30" fill="none" stroke="#00e8b8" stroke-width="1.4" stroke-linejoin="round"/>
<polyline points="44.50,322.00 46.00,340.00 48.10,354.70 60.20,360.80 80.40,364.20 114.00,365.50 179.60,365.50" fill="none" stroke="#00b4ec" stroke-width="1.4" stroke-dasharray="4 3.9" stroke-linejoin="round"/>
<polyline points="44.50,322.00 45.50,360.00 46.70,395.00 50.80,407.10 60.20,412.50 80.40,416.60 108.00,418.60 135.00,419.30 179.40,421.30" fill="none" stroke="#0058ff" stroke-width="1.6" stroke-linejoin="round"/>
<polyline points="44.50,322.00 46.00,360.00 48.00,368.00 53.50,370.90 73.70,373.60 87.20,379.00 100.60,383.00 108.00,385.10 114.70,386.90 121.50,390.30 135.00,392.30 179.40,392.60" fill="none" stroke="#2a1ef0" stroke-width="1.4" stroke-dasharray="1.1 1.25" stroke-linejoin="round"/>
<polyline points="44.50,322.00 45.50,370.00 46.70,409.80 50.80,417.90 60.20,424.00 80.40,426.70 114.00,427.50 179.40,428.70" fill="none" stroke="#b400ff" stroke-width="1.4" stroke-dasharray="4.2 1.6 1.5 1.8" stroke-linejoin="round"/>
<polyline points="44.50,322.00 45.40,327.80 50.80,334.50 60.20,337.20 73.70,342.60 87.20,350.70 100.60,358.80 108.00,362.80 121.50,367.50 135.00,370.90 155.20,372.00 179.40,372.30" fill="none" stroke="#ff00e0" stroke-width="1.4" stroke-dasharray="4 3.9" stroke-linejoin="round"/>
<polyline points="44.50,322.00 45.50,350.00 46.70,364.20 50.80,370.20 60.20,372.30 80.40,375.00 114.00,376.30 179.40,377.90" fill="none" stroke="#f0006c" stroke-width="1.4" stroke-dasharray="4.2 1.6 1.5 1.8" stroke-linejoin="round"/>
<text x="63.14" y="445.10" class="tl" text-anchor="middle">0.5</text>
<text x="86.41" y="445.10" class="tl" text-anchor="middle">1</text>
<text x="109.68" y="445.10" class="tl" text-anchor="middle">1.5</text>
<text x="132.96" y="445.10" class="tl" text-anchor="middle">2</text>
<text x="156.23" y="445.10" class="tl" text-anchor="middle">2.5</text>
<text x="179.50" y="445.10" class="tl" text-anchor="middle">3</text>
<text x="111.50" y="455.50" class="tl" text-anchor="middle">FEs</text>
<text x="180.10" y="459.20" class="tl" text-anchor="end"><tspan class="tx">×</tspan><tspan dx="1.4">10</tspan><tspan class="sup2" dx="0.6" dy="-6.2">5</tspan></text>
<text x="40.50" y="398.79" class="tl" text-anchor="end">3,000</text>
<text x="40.50" y="374.18" class="tl" text-anchor="end">4,000</text>
<text x="40.50" y="355.09" class="tl" text-anchor="end">5,000</text>
<text x="40.50" y="339.49" class="tl" text-anchor="end">6,000</text>
<text x="40.50" y="326.30" class="tl" text-anchor="end">7,000</text>
<text x="112.10" y="319.90" class="tt" text-anchor="middle">F22</text>
<text x="17.10" y="378.40" class="yl" text-anchor="middle" transform="rotate(-90 17.10 378.40)">Best score obtained so far</text>
<rect x="214.5" y="321.5" width="145.00" height="112.00" fill="none" stroke="#666666" stroke-width="1"/>
<path d="M215.59 433.50v-1.5M215.59 321.50v1.5M220.55 433.50v-1.5M220.55 321.50v1.5M225.52 433.50v-1.5M225.52 321.50v1.5M230.48 433.50v-1.5M230.48 321.50v1.5M235.44 433.50v-2.6M235.44 321.50v2.6M240.40 433.50v-1.5M240.40 321.50v1.5M245.37 433.50v-1.5M245.37 321.50v1.5M250.33 433.50v-1.5M250.33 321.50v1.5M255.29 433.50v-1.5M255.29 321.50v1.5M260.25 433.50v-2.6M260.25 321.50v2.6M265.22 433.50v-1.5M265.22 321.50v1.5M270.18 433.50v-1.5M270.18 321.50v1.5M275.14 433.50v-1.5M275.14 321.50v1.5M280.10 433.50v-1.5M280.10 321.50v1.5M285.06 433.50v-2.6M285.06 321.50v2.6M290.03 433.50v-1.5M290.03 321.50v1.5M294.99 433.50v-1.5M294.99 321.50v1.5M299.95 433.50v-1.5M299.95 321.50v1.5M304.91 433.50v-1.5M304.91 321.50v1.5M309.88 433.50v-2.6M309.88 321.50v2.6M314.84 433.50v-1.5M314.84 321.50v1.5M319.80 433.50v-1.5M319.80 321.50v1.5M324.76 433.50v-1.5M324.76 321.50v1.5M329.73 433.50v-1.5M329.73 321.50v1.5M334.69 433.50v-2.6M334.69 321.50v2.6M339.65 433.50v-1.5M339.65 321.50v1.5M344.61 433.50v-1.5M344.61 321.50v1.5M349.58 433.50v-1.5M349.58 321.50v1.5M354.54 433.50v-1.5M354.54 321.50v1.5M214.50 426.85h1.5M359.50 426.85h-1.5M214.50 418.98h1.5M359.50 418.98h-1.5M214.50 411.86h1.5M359.50 411.86h-1.5M214.50 399.38h1.5M359.50 399.38h-1.5M214.50 393.84h1.5M359.50 393.84h-1.5M214.50 388.69h1.5M359.50 388.69h-1.5M214.50 379.34h1.5M359.50 379.34h-1.5M214.50 375.07h1.5M359.50 375.07h-1.5M214.50 371.03h1.5M359.50 371.03h-1.5M214.50 363.56h1.5M359.50 363.56h-1.5M214.50 360.08h1.5M359.50 360.08h-1.5M214.50 356.76h1.5M359.50 356.76h-1.5M214.50 350.53h1.5M359.50 350.53h-1.5M214.50 347.60h1.5M359.50 347.60h-1.5M214.50 344.78h1.5M359.50 344.78h-1.5M214.50 339.44h1.5M359.50 339.44h-1.5M214.50 336.91h1.5M359.50 336.91h-1.5M214.50 334.46h1.5M359.50 334.46h-1.5M214.50 329.79h1.5M359.50 329.79h-1.5M214.50 327.56h1.5M359.50 327.56h-1.5M214.50 325.40h1.5M359.50 325.40h-1.5M214.50 405.36h2.6M359.50 405.36h-2.6M214.50 383.87h2.6M359.50 383.87h-2.6M214.50 367.20h2.6M359.50 367.20h-2.6M214.50 353.58h2.6M359.50 353.58h-2.6M214.50 342.07h2.6M359.50 342.07h-2.6M214.50 332.09h2.6M359.50 332.09h-2.6M214.50 323.29h2.6M359.50 323.29h-2.6" stroke="#666666" stroke-width="0.9" fill="none"/>
<polyline points="215.20,322.00 216.00,370.00 217.10,411.20 219.10,420.60 221.80,428.70 225.80,433.10 359.60,433.50" fill="none" stroke="#ff0000" stroke-width="2.2" stroke-linejoin="round"/>
<polyline points="215.20,322.00 216.50,380.00 218.50,410.00 220.50,424.00 223.10,426.70 230.00,427.00 359.60,427.60" fill="none" stroke="#ff7a10" stroke-width="1.4" stroke-dasharray="1.1 1.25" stroke-linejoin="round"/>
<polyline points="215.20,322.00 216.00,360.00 217.70,395.00 224.50,403.10 238.00,404.40 264.90,407.10 286.00,408.50 306.70,411.00 324.70,415.80 341.30,422.00 358.80,427.60" fill="none" stroke="#ffe000" stroke-width="1.4" stroke-linejoin="round"/>
<polyline points="215.20,322.00 216.20,345.00 217.70,372.30 222.00,373.60 359.60,374.40" fill="none" stroke="#70e400" stroke-width="1.4" stroke-dasharray="4 3.9" stroke-linejoin="round"/>
<polyline points="215.00,322.40 216.40,344.00 217.70,360.10 224.50,364.80 238.00,368.20 258.20,372.30 286.00,377.60 299.80,381.30 313.60,385.40 323.30,386.80 334.40,390.90 348.20,394.40 358.80,398.50" fill="none" stroke="#00e600" stroke-width="1.6" stroke-linejoin="round"/>
<polyline points="215.20,322.00 216.50,380.00 219.10,413.90 231.20,417.90 285.00,420.60 359.60,421.30" fill="none" stroke="#00e640" stroke-width="1.4" stroke-dasharray="1.1 1.25" stroke-linejoin="round"/>
<polyline points="215.20,322.00 216.50,350.00 219.10,372.10 224.50,377.50 231.20,382.90 238.00,388.30 244.70,393.60 258.20,400.40 271.60,407.10 285.00,417.90 291.50,423.40 297.10,426.20 358.80,426.90" fill="none" stroke="#00e8b8" stroke-width="1.4" stroke-linejoin="round"/>
<polyline points="215.20,322.00 216.50,355.00 219.00,375.00 224.00,382.00 231.20,386.90 240.00,388.50 359.60,389.60" fill="none" stroke="#00b4ec" stroke-width="1.4" stroke-dasharray="4 3.9" stroke-linejoin="round"/>
<polyline points="215.20,322.00 216.30,360.00 217.70,381.50 224.50,387.60 238.00,393.00 251.40,395.70 286.00,399.00 313.60,399.60 358.80,400.30" fill="none" stroke="#0058ff" stroke-width="1.6" stroke-linejoin="round"/>
<polyline points="215.20,322.00 216.30,360.00 217.70,382.90 224.50,388.30 251.40,394.30 286.00,397.20 302.60,397.90 316.40,400.60 326.10,406.80 331.60,408.50 358.80,408.90" fill="none" stroke="#2a1ef0" stroke-width="1.4" stroke-dasharray="1.1 1.25" stroke-linejoin="round"/>
<polyline points="215.20,322.00 216.30,360.00 217.70,391.00 224.50,403.10 238.00,407.10 258.20,412.50 286.00,415.80 358.80,417.60" fill="none" stroke="#b400ff" stroke-width="1.4" stroke-dasharray="4.2 1.6 1.5 1.8" stroke-linejoin="round"/>
<polyline points="215.20,322.00 216.50,350.00 219.10,374.80 224.50,382.90 231.20,392.30 238.00,400.40 251.40,409.80 264.90,416.60 286.00,424.80 358.80,427.30" fill="none" stroke="#ff00e0" stroke-width="1.4" stroke-dasharray="4 3.9" stroke-linejoin="round"/>
<polyline points="215.20,322.00 216.50,380.00 219.10,415.20 231.20,418.60 285.00,422.00 359.60,422.70" fill="none" stroke="#f0006c" stroke-width="1.4" stroke-dasharray="4.2 1.6 1.5 1.8" stroke-linejoin="round"/>
<text x="235.44" y="445.10" class="tl" text-anchor="middle">0.5</text>
<text x="260.25" y="445.10" class="tl" text-anchor="middle">1</text>
<text x="285.06" y="445.10" class="tl" text-anchor="middle">1.5</text>
<text x="309.88" y="445.10" class="tl" text-anchor="middle">2</text>
<text x="334.69" y="445.10" class="tl" text-anchor="middle">2.5</text>
<text x="359.50" y="445.10" class="tl" text-anchor="middle">3</text>
<text x="287.00" y="455.50" class="tl" text-anchor="middle">FEs</text>
<text x="360.10" y="459.20" class="tl" text-anchor="end"><tspan class="tx">×</tspan><tspan dx="1.4">10</tspan><tspan class="sup2" dx="0.6" dy="-6.2">5</tspan></text>
<text x="211.50" y="408.36" class="tl" text-anchor="end">0.6</text>
<text x="211.50" y="386.87" class="tl" text-anchor="end">0.8</text>
<text x="211.50" y="370.20" class="tl" text-anchor="end">1</text>
<text x="211.50" y="356.58" class="tl" text-anchor="end">1.2</text>
<text x="211.50" y="345.07" class="tl" text-anchor="end">1.4</text>
<text x="211.50" y="335.09" class="tl" text-anchor="end">1.6</text>
<text x="211.50" y="326.29" class="tl" text-anchor="end">1.8</text>
<text x="214.70" y="320.10" class="tl"><tspan class="tx">×</tspan><tspan dx="0.4">10</tspan><tspan class="sup2" dx="0.3" dy="-4.6">4</tspan></text>
<text x="287.60" y="319.90" class="tt" text-anchor="middle">F26</text>
<rect x="395.5" y="321.5" width="143.00" height="112.00" fill="none" stroke="#666666" stroke-width="1"/>
<path d="M396.58 433.50v-1.5M396.58 321.50v1.5M401.47 433.50v-1.5M401.47 321.50v1.5M406.36 433.50v-1.5M406.36 321.50v1.5M411.26 433.50v-1.5M411.26 321.50v1.5M416.15 433.50v-2.6M416.15 321.50v2.6M421.05 433.50v-1.5M421.05 321.50v1.5M425.94 433.50v-1.5M425.94 321.50v1.5M430.83 433.50v-1.5M430.83 321.50v1.5M435.73 433.50v-1.5M435.73 321.50v1.5M440.62 433.50v-2.6M440.62 321.50v2.6M445.52 433.50v-1.5M445.52 321.50v1.5M450.41 433.50v-1.5M450.41 321.50v1.5M455.30 433.50v-1.5M455.30 321.50v1.5M460.20 433.50v-1.5M460.20 321.50v1.5M465.09 433.50v-2.6M465.09 321.50v2.6M469.99 433.50v-1.5M469.99 321.50v1.5M474.88 433.50v-1.5M474.88 321.50v1.5M479.77 433.50v-1.5M479.77 321.50v1.5M484.67 433.50v-1.5M484.67 321.50v1.5M489.56 433.50v-2.6M489.56 321.50v2.6M494.45 433.50v-1.5M494.45 321.50v1.5M499.35 433.50v-1.5M499.35 321.50v1.5M504.24 433.50v-1.5M504.24 321.50v1.5M509.14 433.50v-1.5M509.14 321.50v1.5M514.03 433.50v-2.6M514.03 321.50v2.6M518.92 433.50v-1.5M518.92 321.50v1.5M523.82 433.50v-1.5M523.82 321.50v1.5M528.71 433.50v-1.5M528.71 321.50v1.5M533.61 433.50v-1.5M533.61 321.50v1.5M395.50 426.92h1.5M538.50 426.92h-1.5M395.50 423.56h1.5M538.50 423.56h-1.5M395.50 421.17h1.5M538.50 421.17h-1.5M395.50 419.32h1.5M538.50 419.32h-1.5M395.50 417.81h1.5M538.50 417.81h-1.5M395.50 416.54h1.5M538.50 416.54h-1.5M395.50 415.43h1.5M538.50 415.43h-1.5M395.50 414.45h1.5M538.50 414.45h-1.5M395.50 413.58h1.5M538.50 413.58h-1.5M395.50 407.84h1.5M538.50 407.84h-1.5M395.50 404.48h1.5M538.50 404.48h-1.5M395.50 402.09h1.5M538.50 402.09h-1.5M395.50 400.24h1.5M538.50 400.24h-1.5M395.50 398.73h1.5M538.50 398.73h-1.5M395.50 397.46h1.5M538.50 397.46h-1.5M395.50 396.35h1.5M538.50 396.35h-1.5M395.50 395.37h1.5M538.50 395.37h-1.5M395.50 388.76h1.5M538.50 388.76h-1.5M395.50 385.40h1.5M538.50 385.40h-1.5M395.50 383.01h1.5M538.50 383.01h-1.5M395.50 381.16h1.5M538.50 381.16h-1.5M395.50 379.65h1.5M538.50 379.65h-1.5M395.50 378.38h1.5M538.50 378.38h-1.5M395.50 377.27h1.5M538.50 377.27h-1.5M395.50 376.29h1.5M538.50 376.29h-1.5M395.50 375.42h1.5M538.50 375.42h-1.5M395.50 369.68h1.5M538.50 369.68h-1.5M395.50 366.32h1.5M538.50 366.32h-1.5M395.50 363.93h1.5M538.50 363.93h-1.5M395.50 362.08h1.5M538.50 362.08h-1.5M395.50 360.57h1.5M538.50 360.57h-1.5M395.50 359.30h1.5M538.50 359.30h-1.5M395.50 358.19h1.5M538.50 358.19h-1.5M395.50 357.21h1.5M538.50 357.21h-1.5M395.50 350.60h1.5M538.50 350.60h-1.5M395.50 347.24h1.5M538.50 347.24h-1.5M395.50 344.85h1.5M538.50 344.85h-1.5M395.50 343.00h1.5M538.50 343.00h-1.5M395.50 341.49h1.5M538.50 341.49h-1.5M395.50 340.22h1.5M538.50 340.22h-1.5M395.50 339.11h1.5M538.50 339.11h-1.5M395.50 338.13h1.5M538.50 338.13h-1.5M395.50 337.26h1.5M538.50 337.26h-1.5M395.50 331.52h1.5M538.50 331.52h-1.5M395.50 328.16h1.5M538.50 328.16h-1.5M395.50 325.77h1.5M538.50 325.77h-1.5M395.50 323.92h1.5M538.50 323.92h-1.5M395.50 322.41h1.5M538.50 322.41h-1.5M395.50 432.66h2.6M538.50 432.66h-2.6M395.50 394.50h2.6M538.50 394.50h-2.6M395.50 356.34h2.6M538.50 356.34h-2.6" stroke="#666666" stroke-width="0.9" fill="none"/>
<polyline points="396.50,322.00 397.40,364.00 398.70,397.70 400.80,417.90 404.10,427.30 412.20,431.40 432.40,432.70 466.00,433.20 538.50,433.40" fill="none" stroke="#ff0000" stroke-width="2.2" stroke-linejoin="round"/>
<polyline points="396.50,322.00 398.00,370.00 400.10,404.40 404.10,424.60 412.20,426.70 466.00,427.30 538.50,427.30" fill="none" stroke="#ff7a10" stroke-width="1.4" stroke-dasharray="1.1 1.25" stroke-linejoin="round"/>
<polyline points="396.50,322.00 397.50,350.00 398.70,368.20 402.80,376.30 405.50,377.50 412.20,380.30 432.40,383.00 466.00,385.40 506.40,388.90 538.10,393.00" fill="none" stroke="#ffe000" stroke-width="1.4" stroke-linejoin="round"/>
<polyline points="396.50,322.00 398.00,360.00 402.80,380.30 419.00,384.30 466.00,388.40 538.10,391.00" fill="none" stroke="#70e400" stroke-width="1.4" stroke-dasharray="4 3.9" stroke-linejoin="round"/>
<polyline points="396.30,322.00 396.70,327.80 398.70,339.90 405.50,346.00 419.00,350.70 439.20,355.40 452.60,360.10 466.00,365.30 486.20,372.10 506.40,378.90 526.60,384.20 538.10,388.00" fill="none" stroke="#00e600" stroke-width="1.6" stroke-linejoin="round"/>
<polyline points="396.50,322.00 397.50,350.00 398.70,373.60 412.20,379.50 439.20,381.70 466.00,383.00 538.10,384.00" fill="none" stroke="#00e640" stroke-width="1.4" stroke-dasharray="1.1 1.25" stroke-linejoin="round"/>
<polyline points="396.50,322.00 397.40,338.60 405.50,346.60 419.00,352.00 432.40,357.40 443.20,365.50 452.60,370.90 466.00,374.90 479.50,380.20 493.00,386.90 499.70,390.30 519.90,391.60 538.10,392.30" fill="none" stroke="#00e8b8" stroke-width="1.4" stroke-linejoin="round"/>
<polyline points="396.50,322.00 397.50,345.00 398.70,360.10 405.50,365.40 419.00,370.20 439.20,374.30 466.00,375.30 538.50,375.80" fill="none" stroke="#00b4ec" stroke-width="1.4" stroke-dasharray="4 3.9" stroke-linejoin="round"/>
<polyline points="396.50,322.00 397.50,340.00 398.10,354.70 405.50,361.50 419.00,365.50 439.20,367.50 466.00,369.00 506.40,370.90 538.10,372.10" fill="none" stroke="#0058ff" stroke-width="1.6" stroke-linejoin="round"/>
<polyline points="396.50,322.00 397.40,341.30 405.50,348.00 425.70,353.40 445.90,356.80 466.00,359.20 503.70,360.40 538.10,362.60" fill="none" stroke="#2a1ef0" stroke-width="1.4" stroke-dasharray="1.1 1.25" stroke-linejoin="round"/>
<polyline points="396.50,322.00 397.50,355.00 400.10,374.00 412.20,383.00 432.40,387.40 466.00,391.60 506.40,393.60 538.10,396.10" fill="none" stroke="#b400ff" stroke-width="1.4" stroke-dasharray="4.2 1.6 1.5 1.8" stroke-linejoin="round"/>
<polyline points="396.50,322.00 398.00,335.00 400.10,344.00 405.50,352.00 412.20,361.50 419.00,370.90 425.70,380.30 432.40,388.40 439.20,393.60 452.60,403.10 466.00,410.50 479.50,416.60 493.00,422.00 506.40,424.60 519.90,426.70 538.10,428.00" fill="none" stroke="#ff00e0" stroke-width="1.4" stroke-dasharray="4 3.9" stroke-linejoin="round"/>
<polyline points="396.50,322.00 397.50,370.00 398.70,404.40 405.50,408.50 419.00,412.50 445.90,415.20 466.00,417.20 538.10,417.90" fill="none" stroke="#f0006c" stroke-width="1.4" stroke-dasharray="4.2 1.6 1.5 1.8" stroke-linejoin="round"/>
<text x="416.15" y="445.10" class="tl" text-anchor="middle">0.5</text>
<text x="440.62" y="445.10" class="tl" text-anchor="middle">1</text>
<text x="465.09" y="445.10" class="tl" text-anchor="middle">1.5</text>
<text x="489.56" y="445.10" class="tl" text-anchor="middle">2</text>
<text x="514.03" y="445.10" class="tl" text-anchor="middle">2.5</text>
<text x="538.50" y="445.10" class="tl" text-anchor="middle">3</text>
<text x="467.00" y="455.50" class="tl" text-anchor="middle">FEs</text>
<text x="539.10" y="459.20" class="tl" text-anchor="end"><tspan class="tx">×</tspan><tspan dx="1.4">10</tspan><tspan class="sup2" dx="0.6" dy="-6.2">5</tspan></text>
<text x="392.50" y="436.96" class="tl" text-anchor="end">10<tspan class="sup" dx="0.5" dy="-5.0">4</tspan></text>
<text x="392.50" y="398.80" class="tl" text-anchor="end">10<tspan class="sup" dx="0.5" dy="-5.0">6</tspan></text>
<text x="392.50" y="360.64" class="tl" text-anchor="end">10<tspan class="sup" dx="0.5" dy="-5.0">8</tspan></text>
<text x="467.60" y="319.90" class="tt" text-anchor="middle">F30</text>
<text x="375.90" y="378.40" class="yl" text-anchor="middle" transform="rotate(-90 375.90 378.40)">Best score obtained so far</text>
<rect x="8.4" y="476.5" width="531.2" height="63.2" fill="#fff" stroke="#111" stroke-width="1.3"/>
<line x1="48.1" y1="496.4" x2="81.7" y2="496.4" stroke="#ff0000" stroke-width="2.8"/>
<text x="85.3" y="500.90" class="lg">CCRIME</text>
<line x1="147.1" y1="496.4" x2="180.6" y2="496.4" stroke="#ff7a10" stroke-width="2.0" stroke-dasharray="1.2 2.0"/>
<text x="184.5" y="500.90" class="lg">RIME</text>
<line x1="227.0" y1="496.4" x2="260.9" y2="496.4" stroke="#ffe000" stroke-width="2.0" stroke-dasharray="6 2 2 2"/>
<text x="264.4" y="500.90" class="lg">MVO</text>
<line x1="303.3" y1="496.4" x2="335.8" y2="496.4" stroke="#70e400" stroke-width="2.0" stroke-dasharray="7 5.5"/>
<text x="340.9" y="500.90" class="lg">BA</text>
<line x1="365.1" y1="496.4" x2="399.6" y2="496.4" stroke="#00e600" stroke-width="2.0"/>
<text x="402.9" y="500.90" class="lg">HHO</text>
<line x1="439.8" y1="496.4" x2="473.6" y2="496.4" stroke="#00e640" stroke-width="2.0" stroke-dasharray="1.2 2.0"/>
<text x="477.5" y="500.90" class="lg">PSO</text>
<line x1="26.7" y1="524.3" x2="59.8" y2="524.3" stroke="#00e8b8" stroke-width="2.0" stroke-dasharray="6 2 2 2"/>
<text x="64.2" y="528.80" class="lg">SSA</text>
<line x1="95.5" y1="524.3" x2="127.8" y2="524.3" stroke="#00b4ec" stroke-width="2.0" stroke-dasharray="7 5.5"/>
<text x="132.1" y="528.80" class="lg">WOA</text>
<line x1="172.3" y1="524.3" x2="205.6" y2="524.3" stroke="#0058ff" stroke-width="2.0"/>
<text x="208.7" y="528.80" class="lg">JAYA</text>
<line x1="250.7" y1="524.3" x2="285.0" y2="524.3" stroke="#2a1ef0" stroke-width="2.0" stroke-dasharray="1.2 2.0"/>
<text x="288.0" y="528.80" class="lg">PO</text>
<line x1="313.0" y1="524.3" x2="345.2" y2="524.3" stroke="#b400ff" stroke-width="2.0" stroke-dasharray="6 2 2 2"/>
<text x="349.6" y="528.80" class="lg">SFS</text>
<line x1="379.0" y1="524.3" x2="412.3" y2="524.3" stroke="#ff00e0" stroke-width="2.0" stroke-dasharray="7 5.5"/>
<text x="416.4" y="528.80" class="lg">SMA</text>
<line x1="453.3" y1="524.3" x2="485.6" y2="524.3" stroke="#f0006c" stroke-width="2.0" stroke-dasharray="6 2 2 2"/>
<text x="489.9" y="528.80" class="lg">HGS</text>
</svg></body></html>
